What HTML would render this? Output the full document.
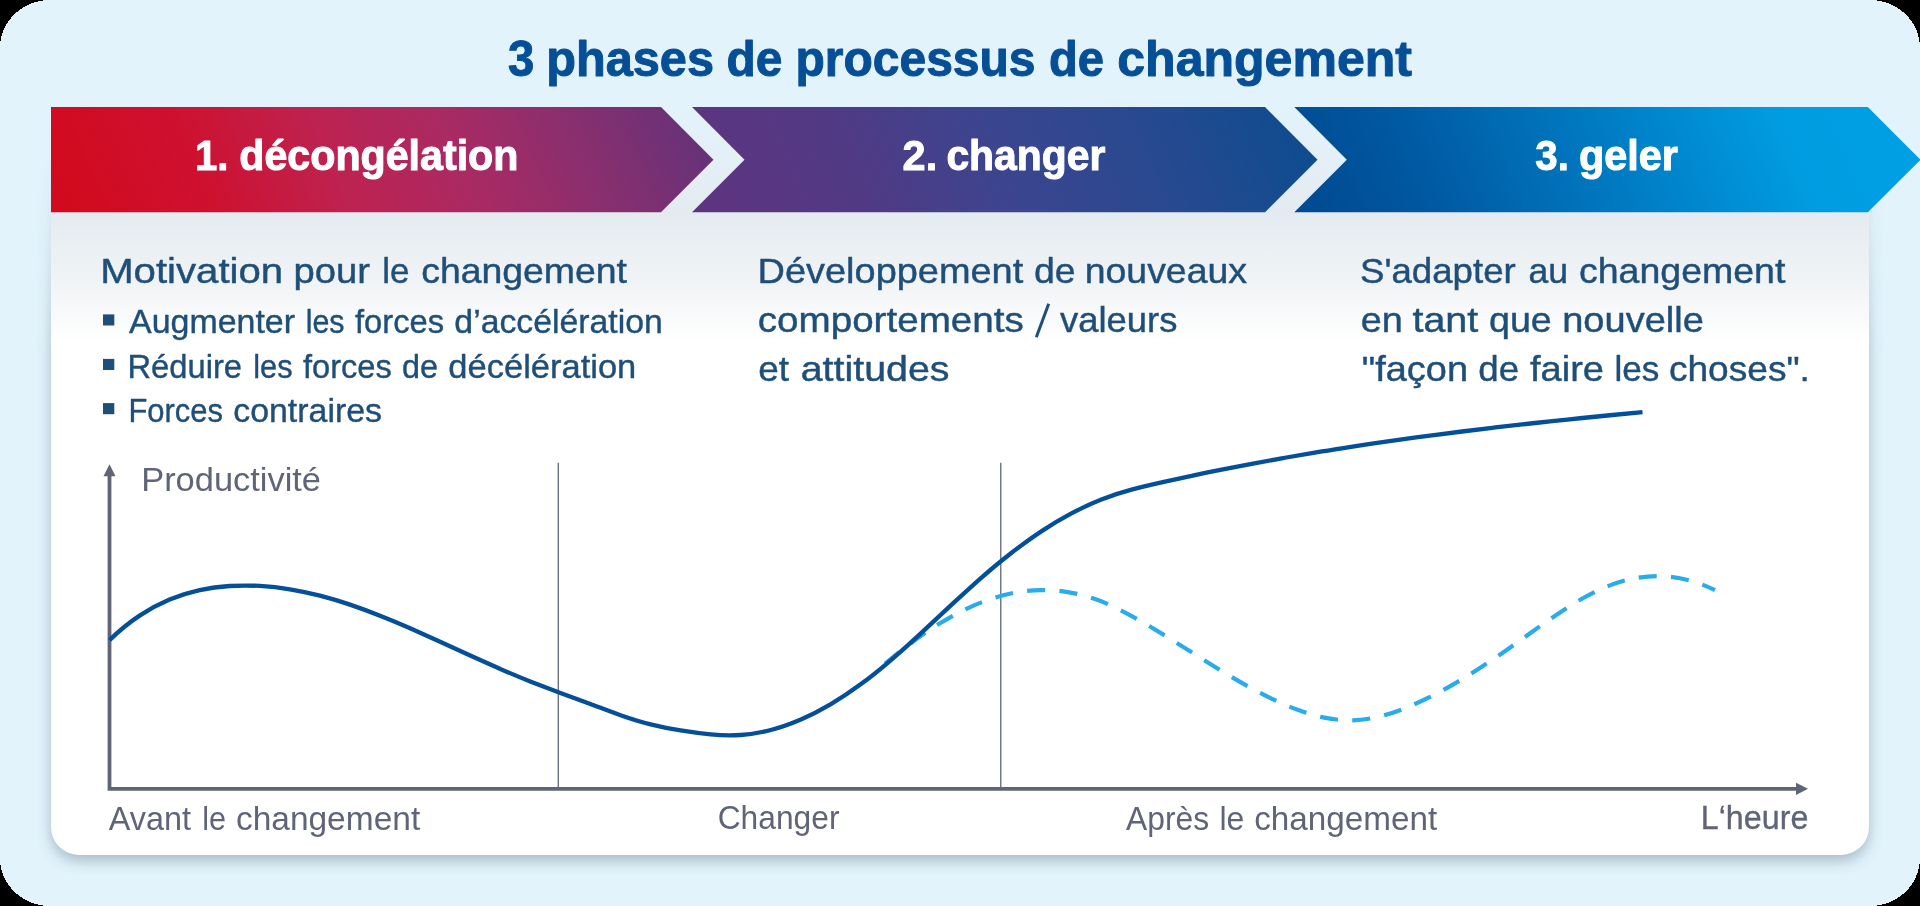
<!DOCTYPE html>
<html lang="fr"><head><meta charset="utf-8"><title>3 phases de processus de changement</title>
<style>
html,body{margin:0;padding:0;background:#000;}
body{width:1920px;height:906px;overflow:hidden;font-family:"Liberation Sans",sans-serif;}
svg{display:block;font-family:"Liberation Sans",sans-serif;will-change:transform;}
</style></head><body>
<svg width="1920" height="906" viewBox="0 0 1920 906">
<defs>
<linearGradient id="g1" gradientUnits="userSpaceOnUse" x1="51.0" y1="159.7" x2="612.4" y2="-78.6">
<stop offset="0" stop-color="#d20a1e"/><stop offset="0.22" stop-color="#ce1130"/><stop offset="0.42" stop-color="#be2250"/><stop offset="0.62" stop-color="#a92a63"/><stop offset="0.82" stop-color="#872f6f"/><stop offset="1" stop-color="#653278"/>
</linearGradient>
<linearGradient id="g2" gradientUnits="userSpaceOnUse" x1="692.0" y1="159.7" x2="1222.0" y2="-65.3">
<stop offset="0" stop-color="#5e3480"/><stop offset="0.25" stop-color="#513a85"/><stop offset="0.5" stop-color="#3b458f"/><stop offset="0.75" stop-color="#274990"/><stop offset="1" stop-color="#0e4c8f"/>
</linearGradient>
<linearGradient id="g3" gradientUnits="userSpaceOnUse" x1="1294.3" y1="159.7" x2="1824.9" y2="-65.5">
<stop offset="0" stop-color="#004b92"/><stop offset="0.2" stop-color="#005aa3"/><stop offset="0.45" stop-color="#0075bd"/><stop offset="0.8" stop-color="#009ce1"/><stop offset="1" stop-color="#00a0e4"/>
</linearGradient>
<linearGradient id="gc" gradientUnits="userSpaceOnUse" x1="0" y1="107" x2="0" y2="343">
<stop offset="0" stop-color="#e2f3fc"/><stop offset="0.22" stop-color="#e4eff6"/><stop offset="0.445" stop-color="#e4ebf0"/><stop offset="0.75" stop-color="#f1f4f6"/><stop offset="1" stop-color="#ffffff"/>
</linearGradient>
<linearGradient id="gs" gradientUnits="userSpaceOnUse" x1="0" y1="150" x2="0" y2="343">
<stop offset="0" stop-color="#4f6577" stop-opacity="0"/><stop offset="1" stop-color="#4f6577" stop-opacity="0.40"/>
</linearGradient>
<filter id="blur" x="-5%" y="-5%" width="110%" height="115%"><feGaussianBlur stdDeviation="7"/></filter>
</defs>

<rect x="0" y="0" width="1920" height="906" rx="50" ry="48" fill="#e2f3fc" shape-rendering="crispEdges"/>
<path d="M51 107 H1869 V827 A28 28 0 0 1 1841 855 H79 A28 28 0 0 1 51 827 Z" fill="url(#gs)" filter="url(#blur)" transform="translate(0,6)"/>
<path d="M51 107 H1869 V827 A28 28 0 0 1 1841 855 H79 A28 28 0 0 1 51 827 Z" fill="url(#gc)"/>
<path d="M51 107 H661 L713.5 159.7 L661 212.3 H51 Z" fill="url(#g1)"/>
<path d="M692 107 H1265 L1317.5 159.7 L1265 212.3 H692 L744.5 159.7 Z" fill="url(#g2)"/>
<path d="M1294.3 107 H1867.8 L1920.5 159.7 L1867.8 212.3 H1294.3 L1346.8 159.7 Z" fill="url(#g3)"/>
<text x="508.00" y="75.5" textLength="26.28" lengthAdjust="spacingAndGlyphs" font-size="50.0" font-weight="bold" fill="#064f96" stroke="#064f96" stroke-width="1.00" stroke-linejoin="round">3</text>
<text x="546.21" y="75.5" textLength="167.85" lengthAdjust="spacingAndGlyphs" font-size="50.0" font-weight="bold" fill="#064f96" stroke="#064f96" stroke-width="1.00" stroke-linejoin="round">phases</text>
<text x="726.44" y="75.5" textLength="55.84" lengthAdjust="spacingAndGlyphs" font-size="50.0" font-weight="bold" fill="#064f96" stroke="#064f96" stroke-width="1.00" stroke-linejoin="round">de</text>
<text x="795.47" y="75.5" textLength="240.08" lengthAdjust="spacingAndGlyphs" font-size="50.0" font-weight="bold" fill="#064f96" stroke="#064f96" stroke-width="1.00" stroke-linejoin="round">processus</text>
<text x="1048.96" y="75.5" textLength="55.06" lengthAdjust="spacingAndGlyphs" font-size="50.0" font-weight="bold" fill="#064f96" stroke="#064f96" stroke-width="1.00" stroke-linejoin="round">de</text>
<text x="1117.24" y="75.5" textLength="294.76" lengthAdjust="spacingAndGlyphs" font-size="50.0" font-weight="bold" fill="#064f96" stroke="#064f96" stroke-width="1.00" stroke-linejoin="round">changement</text>
<text x="195.03" y="170.4" textLength="33.39" lengthAdjust="spacingAndGlyphs" font-size="42.0" font-weight="bold" fill="#ffffff" stroke="#ffffff" stroke-width="1.00" stroke-linejoin="round">1.</text>
<text x="239.30" y="170.4" textLength="279.11" lengthAdjust="spacingAndGlyphs" font-size="42.0" font-weight="bold" fill="#ffffff" stroke="#ffffff" stroke-width="1.00" stroke-linejoin="round">décongélation</text>
<text x="902.59" y="170.4" textLength="34.61" lengthAdjust="spacingAndGlyphs" font-size="42.0" font-weight="bold" fill="#ffffff" stroke="#ffffff" stroke-width="1.00" stroke-linejoin="round">2.</text>
<text x="946.40" y="170.4" textLength="158.90" lengthAdjust="spacingAndGlyphs" font-size="42.0" font-weight="bold" fill="#ffffff" stroke="#ffffff" stroke-width="1.00" stroke-linejoin="round">changer</text>
<text x="1535.29" y="170.4" textLength="33.57" lengthAdjust="spacingAndGlyphs" font-size="42.0" font-weight="bold" fill="#ffffff" stroke="#ffffff" stroke-width="1.00" stroke-linejoin="round">3.</text>
<text x="1579.09" y="170.4" textLength="98.90" lengthAdjust="spacingAndGlyphs" font-size="42.0" font-weight="bold" fill="#ffffff" stroke="#ffffff" stroke-width="1.00" stroke-linejoin="round">geler</text>
<text x="100.15" y="282.5" textLength="182.97" lengthAdjust="spacingAndGlyphs" font-size="35.8" font-weight="normal" fill="#1f4e79" stroke="#1f4e79" stroke-width="0.45" stroke-linejoin="round">Motivation</text>
<text x="293.48" y="282.5" textLength="76.52" lengthAdjust="spacingAndGlyphs" font-size="35.8" font-weight="normal" fill="#1f4e79" stroke="#1f4e79" stroke-width="0.45" stroke-linejoin="round">pour</text>
<text x="382.13" y="282.5" textLength="27.22" lengthAdjust="spacingAndGlyphs" font-size="35.8" font-weight="normal" fill="#1f4e79" stroke="#1f4e79" stroke-width="0.45" stroke-linejoin="round">le</text>
<text x="421.20" y="282.5" textLength="205.80" lengthAdjust="spacingAndGlyphs" font-size="35.8" font-weight="normal" fill="#1f4e79" stroke="#1f4e79" stroke-width="0.45" stroke-linejoin="round">changement</text>
<rect x="103" y="314.4" width="11.3" height="11.1" fill="#1f4e79"/>
<text x="129.10" y="333.2" textLength="165.92" lengthAdjust="spacingAndGlyphs" font-size="33.2" font-weight="normal" fill="#1f4e79" stroke="#1f4e79" stroke-width="0.40" stroke-linejoin="round">Augmenter</text>
<text x="305.71" y="333.2" textLength="38.82" lengthAdjust="spacingAndGlyphs" font-size="33.2" font-weight="normal" fill="#1f4e79" stroke="#1f4e79" stroke-width="0.40" stroke-linejoin="round">les</text>
<text x="355.00" y="333.2" textLength="89.00" lengthAdjust="spacingAndGlyphs" font-size="33.2" font-weight="normal" fill="#1f4e79" stroke="#1f4e79" stroke-width="0.40" stroke-linejoin="round">forces</text>
<text x="454.39" y="333.2" textLength="208.33" lengthAdjust="spacingAndGlyphs" font-size="33.2" font-weight="normal" fill="#1f4e79" stroke="#1f4e79" stroke-width="0.40" stroke-linejoin="round">d’accélération</text>
<rect x="103" y="358.9" width="11.3" height="11.1" fill="#1f4e79"/>
<text x="127.48" y="377.7" textLength="114.55" lengthAdjust="spacingAndGlyphs" font-size="33.2" font-weight="normal" fill="#1f4e79" stroke="#1f4e79" stroke-width="0.40" stroke-linejoin="round">Réduire</text>
<text x="253.19" y="377.7" textLength="39.35" lengthAdjust="spacingAndGlyphs" font-size="33.2" font-weight="normal" fill="#1f4e79" stroke="#1f4e79" stroke-width="0.40" stroke-linejoin="round">les</text>
<text x="303.00" y="377.7" textLength="88.80" lengthAdjust="spacingAndGlyphs" font-size="33.2" font-weight="normal" fill="#1f4e79" stroke="#1f4e79" stroke-width="0.40" stroke-linejoin="round">forces</text>
<text x="402.00" y="377.7" textLength="36.00" lengthAdjust="spacingAndGlyphs" font-size="33.2" font-weight="normal" fill="#1f4e79" stroke="#1f4e79" stroke-width="0.40" stroke-linejoin="round">de</text>
<text x="448.39" y="377.7" textLength="187.94" lengthAdjust="spacingAndGlyphs" font-size="33.2" font-weight="normal" fill="#1f4e79" stroke="#1f4e79" stroke-width="0.40" stroke-linejoin="round">décélération</text>
<rect x="103" y="403.1" width="11.3" height="11.1" fill="#1f4e79"/>
<text x="128.49" y="421.9" textLength="94.51" lengthAdjust="spacingAndGlyphs" font-size="33.2" font-weight="normal" fill="#1f4e79" stroke="#1f4e79" stroke-width="0.40" stroke-linejoin="round">Forces</text>
<text x="233.25" y="421.9" textLength="148.75" lengthAdjust="spacingAndGlyphs" font-size="33.2" font-weight="normal" fill="#1f4e79" stroke="#1f4e79" stroke-width="0.40" stroke-linejoin="round">contraires</text>
<text x="757.58" y="282.5" textLength="265.67" lengthAdjust="spacingAndGlyphs" font-size="35.8" font-weight="normal" fill="#1f4e79" stroke="#1f4e79" stroke-width="0.45" stroke-linejoin="round">Développement</text>
<text x="1033.95" y="282.5" textLength="41.61" lengthAdjust="spacingAndGlyphs" font-size="35.8" font-weight="normal" fill="#1f4e79" stroke="#1f4e79" stroke-width="0.45" stroke-linejoin="round">de</text>
<text x="1084.72" y="282.5" textLength="162.28" lengthAdjust="spacingAndGlyphs" font-size="35.8" font-weight="normal" fill="#1f4e79" stroke="#1f4e79" stroke-width="0.45" stroke-linejoin="round">nouveaux</text>
<text x="757.80" y="332.0" textLength="265.95" lengthAdjust="spacingAndGlyphs" font-size="35.8" font-weight="normal" fill="#1f4e79" stroke="#1f4e79" stroke-width="0.45" stroke-linejoin="round">comportements</text>
<text x="1060.00" y="332.0" textLength="117.40" lengthAdjust="spacingAndGlyphs" font-size="35.8" font-weight="normal" fill="#1f4e79" stroke="#1f4e79" stroke-width="0.45" stroke-linejoin="round">valeurs</text>
<path d="M1036.3 337.3 L1048.7 303.8" stroke="#1f4e79" stroke-width="3" fill="none"/>
<text x="758.25" y="381.0" textLength="30.79" lengthAdjust="spacingAndGlyphs" font-size="35.8" font-weight="normal" fill="#1f4e79" stroke="#1f4e79" stroke-width="0.45" stroke-linejoin="round">et</text>
<text x="800.74" y="381.0" textLength="148.76" lengthAdjust="spacingAndGlyphs" font-size="35.8" font-weight="normal" fill="#1f4e79" stroke="#1f4e79" stroke-width="0.45" stroke-linejoin="round">attitudes</text>
<text x="1360.00" y="282.5" textLength="155.75" lengthAdjust="spacingAndGlyphs" font-size="35.8" font-weight="normal" fill="#1f4e79" stroke="#1f4e79" stroke-width="0.45" stroke-linejoin="round">S'adapter</text>
<text x="1528.47" y="282.5" textLength="39.61" lengthAdjust="spacingAndGlyphs" font-size="35.8" font-weight="normal" fill="#1f4e79" stroke="#1f4e79" stroke-width="0.45" stroke-linejoin="round">au</text>
<text x="1579.00" y="282.5" textLength="206.40" lengthAdjust="spacingAndGlyphs" font-size="35.8" font-weight="normal" fill="#1f4e79" stroke="#1f4e79" stroke-width="0.45" stroke-linejoin="round">changement</text>
<text x="1360.75" y="332.0" textLength="42.05" lengthAdjust="spacingAndGlyphs" font-size="35.8" font-weight="normal" fill="#1f4e79" stroke="#1f4e79" stroke-width="0.45" stroke-linejoin="round">en</text>
<text x="1412.47" y="332.0" textLength="65.81" lengthAdjust="spacingAndGlyphs" font-size="35.8" font-weight="normal" fill="#1f4e79" stroke="#1f4e79" stroke-width="0.45" stroke-linejoin="round">tant</text>
<text x="1488.99" y="332.0" textLength="62.80" lengthAdjust="spacingAndGlyphs" font-size="35.8" font-weight="normal" fill="#1f4e79" stroke="#1f4e79" stroke-width="0.45" stroke-linejoin="round">que</text>
<text x="1562.22" y="332.0" textLength="141.58" lengthAdjust="spacingAndGlyphs" font-size="35.8" font-weight="normal" fill="#1f4e79" stroke="#1f4e79" stroke-width="0.45" stroke-linejoin="round">nouvelle</text>
<text x="1361.78" y="381.0" textLength="106.22" lengthAdjust="spacingAndGlyphs" font-size="35.8" font-weight="normal" fill="#1f4e79" stroke="#1f4e79" stroke-width="0.45" stroke-linejoin="round">"façon</text>
<text x="1478.24" y="381.0" textLength="40.81" lengthAdjust="spacingAndGlyphs" font-size="35.8" font-weight="normal" fill="#1f4e79" stroke="#1f4e79" stroke-width="0.45" stroke-linejoin="round">de</text>
<text x="1530.00" y="381.0" textLength="74.01" lengthAdjust="spacingAndGlyphs" font-size="35.8" font-weight="normal" fill="#1f4e79" stroke="#1f4e79" stroke-width="0.45" stroke-linejoin="round">faire</text>
<text x="1614.43" y="381.0" textLength="44.85" lengthAdjust="spacingAndGlyphs" font-size="35.8" font-weight="normal" fill="#1f4e79" stroke="#1f4e79" stroke-width="0.45" stroke-linejoin="round">les</text>
<text x="1668.96" y="381.0" textLength="140.96" lengthAdjust="spacingAndGlyphs" font-size="35.8" font-weight="normal" fill="#1f4e79" stroke="#1f4e79" stroke-width="0.45" stroke-linejoin="round">choses".</text>
<path d="M558.3 462.8 V788 M1000.75 462.8 V788" stroke="#5f6577" stroke-width="1.4" stroke-opacity="0.92" fill="none"/>
<path d="M109.5 475 V788.8 H1797" stroke="#5f6577" stroke-width="3.8" fill="none" stroke-linejoin="miter"/>
<path d="M109.5 464.2 L115.5 476.3 H103.5 Z" fill="#5f6577"/>
<path d="M1808.1 788.8 L1796 782.7 V794.9 Z" fill="#5f6577"/>
<path d="M884.5 664.2C893.2 656.9 901.8 649.9 910.5 643.5C919.1 637.0 927.8 631.0 936.4 625.5C945.1 620.1 953.7 615.2 962.4 610.8C971.0 606.5 979.7 602.8 988.3 599.8C997.0 596.7 1005.6 594.4 1014.3 592.8C1022.9 591.1 1031.6 590.2 1040.2 590.1C1048.9 589.9 1057.5 590.5 1066.2 591.8C1074.8 593.1 1083.5 595.2 1092.1 598.1C1100.8 600.9 1109.4 604.6 1118.1 608.9C1126.7 613.1 1135.4 618.0 1144.0 623.0C1152.7 628.1 1161.3 633.4 1170.0 638.7C1178.6 644.1 1187.3 649.5 1195.9 655.0C1204.6 660.4 1213.2 665.8 1221.9 671.1C1230.5 676.3 1239.2 681.5 1247.8 686.3C1256.5 691.1 1265.1 695.6 1273.8 699.7C1282.4 703.8 1291.1 707.5 1299.8 710.6C1308.4 713.7 1317.1 716.2 1325.7 717.9C1334.4 719.6 1343.0 720.5 1351.7 720.3C1360.3 720.2 1369.0 719.0 1377.6 717.0C1386.3 715.0 1394.9 712.2 1403.6 708.8C1412.2 705.4 1420.9 701.5 1429.5 697.2C1438.2 692.9 1446.8 688.2 1455.5 683.1C1464.1 678.0 1472.8 672.7 1481.4 667.0C1490.1 661.4 1498.7 655.5 1507.4 649.5C1516.0 643.4 1524.7 637.2 1533.3 631.0C1542.0 624.8 1550.6 618.7 1559.3 613.0C1567.9 607.2 1576.6 601.8 1585.2 597.0C1593.9 592.3 1602.5 588.1 1611.2 584.9C1619.8 581.6 1628.5 579.3 1637.1 577.8C1645.8 576.4 1654.4 575.8 1663.1 576.2C1671.7 576.6 1680.4 578.0 1689.0 580.3C1697.7 582.6 1706.3 585.9 1715.0 590.2" stroke="#29abec" stroke-width="4.2" fill="none" stroke-dasharray="18.1 14.28" stroke-dashoffset="-0.8" stroke-linecap="butt"/>
<path d="M109.5 640.1C119.5 630.4 129.5 622.3 139.6 615.6C149.6 608.9 159.6 603.7 169.6 599.5C179.6 595.3 189.7 592.3 199.7 590.1C209.7 588.0 219.7 586.7 229.7 586.0C239.8 585.4 249.8 585.4 259.8 585.9C269.8 586.5 279.8 587.6 289.9 589.3C299.9 590.9 309.9 593.1 319.9 595.7C329.9 598.3 340.0 601.3 350.0 604.6C360.0 608.0 370.0 611.7 380.0 615.7C390.0 619.6 400.1 623.9 410.1 628.2C420.1 632.6 430.1 637.1 440.1 641.7C450.2 646.3 460.2 650.9 470.2 655.5C480.2 660.0 490.2 664.6 500.3 668.9C510.3 673.3 520.3 677.5 530.3 681.5C540.3 685.4 550.4 689.2 560.4 692.9C570.4 696.6 580.4 700.3 590.4 704.0C600.5 707.8 610.5 711.7 620.5 715.3C630.5 718.8 640.5 722.0 650.6 724.4C660.6 726.9 670.6 728.9 680.6 730.4C690.6 732.0 700.7 733.4 710.7 734.4C720.7 735.4 730.7 735.7 740.7 735.0C750.8 734.3 760.8 732.6 770.8 730.0C780.8 727.4 790.8 723.8 800.9 719.5C810.9 715.2 820.9 710.0 830.9 704.1C840.9 698.2 851.0 691.5 861.0 684.1C871.0 676.8 881.0 668.7 891.0 660.1C901.0 651.5 911.1 642.4 921.1 633.1C931.1 623.8 941.1 614.4 951.1 605.1C961.2 595.8 971.2 586.6 981.2 577.8C991.2 569.1 1001.2 560.8 1011.3 553.0C1021.3 545.3 1031.3 538.0 1041.3 531.4C1051.3 524.7 1061.4 518.7 1071.4 513.4C1081.4 508.1 1091.4 503.4 1101.4 499.5C1111.5 495.6 1121.5 492.4 1131.5 489.7C1141.5 487.0 1151.5 484.7 1161.6 482.4C1171.6 480.2 1181.6 478.0 1191.6 475.8C1201.6 473.7 1211.7 471.6 1221.7 469.6C1231.7 467.6 1241.7 465.7 1251.7 463.8C1261.8 461.9 1271.8 460.1 1281.8 458.3C1291.8 456.5 1301.8 454.8 1311.9 453.1C1321.9 451.5 1331.9 449.8 1341.9 448.3C1351.9 446.7 1362.0 445.2 1372.0 443.7C1382.0 442.2 1392.0 440.8 1402.0 439.4C1412.0 438.0 1422.1 436.6 1432.1 435.3C1442.1 434.0 1452.1 432.7 1462.1 431.5C1472.2 430.2 1482.2 429.0 1492.2 427.8C1502.2 426.6 1512.2 425.5 1522.3 424.4C1532.3 423.3 1542.3 422.2 1552.3 421.1C1562.3 420.1 1572.4 419.0 1582.4 418.0C1592.4 417.0 1602.4 416.0 1612.4 415.0C1622.5 414.0 1632.5 413.1 1642.5 412.1" stroke="#034f99" stroke-width="4.3" fill="none" stroke-linecap="butt"/>
<text x="141.18" y="491.0" textLength="179.84" lengthAdjust="spacingAndGlyphs" font-size="33.0" font-weight="normal" fill="#5f6577">Productivité</text>
<text x="108.70" y="830.2" textLength="82.33" lengthAdjust="spacingAndGlyphs" font-size="33.3" font-weight="normal" fill="#5f6577">Avant</text>
<text x="202.18" y="830.2" textLength="23.84" lengthAdjust="spacingAndGlyphs" font-size="33.3" font-weight="normal" fill="#5f6577">le</text>
<text x="235.90" y="830.2" textLength="184.30" lengthAdjust="spacingAndGlyphs" font-size="33.3" font-weight="normal" fill="#5f6577">changement</text>
<text x="717.70" y="829.0" textLength="121.80" lengthAdjust="spacingAndGlyphs" font-size="33.3" font-weight="normal" fill="#5f6577">Changer</text>
<text x="1126.00" y="830.0" textLength="83.10" lengthAdjust="spacingAndGlyphs" font-size="33.3" font-weight="normal" fill="#5f6577">Après</text>
<text x="1219.48" y="830.0" textLength="24.86" lengthAdjust="spacingAndGlyphs" font-size="33.3" font-weight="normal" fill="#5f6577">le</text>
<text x="1254.20" y="830.0" textLength="183.10" lengthAdjust="spacingAndGlyphs" font-size="33.3" font-weight="normal" fill="#5f6577">changement</text>
<text x="1700.77" y="829.0" textLength="107.55" lengthAdjust="spacingAndGlyphs" font-size="33.0" font-weight="normal" fill="#5f6577" stroke="#5f6577" stroke-width="0.35" stroke-linejoin="round">L‘heure</text>
</svg>
</body></html>
